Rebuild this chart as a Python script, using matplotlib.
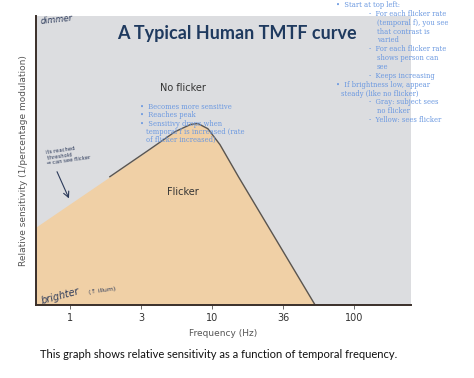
import matplotlib
matplotlib.use('Agg')
from matplotlib import pyplot as plt

# evenly spaced frequency ticks (Hz)
tick_labels = ['1', '3', '10', '36', '100']
tick_pos = [0, 1, 2, 3, 4]

# TMTF boundary, x in tick-index units, y relative sensitivity (0-1 of axis)
curve_x = [-0.48, 0.56, 1.13, 1.48, 1.70, 1.80, 1.94, 2.11, 2.37, 3.45]
curve_y = [0.27, 0.444, 0.54, 0.60, 0.625, 0.628, 0.61, 0.555, 0.444, 0.0]

note_lines = [
    (0, '\u2022  Start at top left:'),
    (1, '-  For each flicker rate'),
    (2, '(temporal f), you see'),
    (2, 'that contrast is'),
    (2, 'varied'),
    (1, '-  For each flicker rate'),
    (2, 'shows person can'),
    (2, 'see'),
    (1, '-  Keeps increasing'),
    (0, '\u2022  If brightness low, appear'),
    (3, 'steady (like no flicker)'),
    (1, '-  Gray: subject sees'),
    (2, 'no flicker'),
    (1, '-  Yellow: sees flicker'),
]

mid_lines = [
    (0, '\u2022  Becomes more sensitive'),
    (0, '\u2022  Reaches peak'),
    (0, '\u2022  Sensitivy drops when'),
    (1, 'temporal f is increased (rate'),
    (1, 'of flicker increased)'),
]

gray = '#dcdde0'
peach = '#f0d0a6'
blue = '#6a98e0'
ink = '#2c3a5a'

fig = plt.figure(figsize=(4.74, 3.78), dpi=100)
ax = fig.add_axes([36/474, 1-305/378, 375/474, 289/378])
ax.set_facecolor(gray)
ax.set_xlim(-0.48, 4.8)
ax.set_ylim(0, 1)

ax.fill_between(curve_x, curve_y, 0, color=peach, lw=0)
ax.plot(curve_x[1:], curve_y[1:], color='#5a5550', lw=1.0)

ax.set_xticks(tick_pos)
ax.set_xticklabels(tick_labels, fontsize=7, color='#333333')
ax.tick_params(axis='x', length=3, width=0.6, color='#555555', pad=3)
ax.set_yticks([])
for s in ['top', 'right']:
    ax.spines[s].set_visible(False)
ax.spines['left'].set_color('#3a2f2a')
ax.spines['left'].set_linewidth(1.4)
ax.spines['bottom'].set_color('#3a2f2a')
ax.spines['bottom'].set_linewidth(1.4)

ax.set_xlabel('Frequency (Hz)', fontsize=6.5, color='#555555', labelpad=4)
ax.set_ylabel('Relative sensitivity (1/percentage modulation)', fontsize=6.5,
              color='#555555', labelpad=6)

fig.text(237/474, 1-33/378, 'A Typical Human TMTF curve', ha='center', va='center',
         fontsize=13, fontweight='bold', color='#1f3a5f', family='Lato')

fig.text(183/474, 1-88/378, 'No flicker', ha='center', va='center', fontsize=7, color='#333333')
fig.text(183/474, 1-192/378, 'Flicker', ha='center', va='center', fontsize=7, color='#333333')

# handwritten notes
fig.text(40/474, 1-20/378, 'dimmer', fontsize=6, color=ink, rotation=6, va='center',
         style='italic')
fig.text(40/474, 1-296/378, 'brighter', fontsize=7, color=ink, rotation=15, va='center',
         style='italic')
fig.text(88/474, 1-290/378, '(\u2191 illum)', fontsize=4.5, color=ink, rotation=8, va='center')
fig.text(45/474, 1-155/378, "its reached\n threshold\n\u21d2 can see flicker", fontsize=3.8,
         color=ink, rotation=8, va='center', linespacing=1.1)
ax.annotate('', xy=(0.0, 0.36), xytext=(-0.2, 0.47),
            arrowprops=dict(arrowstyle='->', color=ink, lw=0.8))

# blue slide notes (middle)
for i, (lvl, s) in enumerate(mid_lines):
    x = 140 if lvl == 0 else 146
    fig.text(x/474, 1-(107 + i*8.3)/378, s, fontsize=4.9, color=blue,
             family='DejaVu Serif', va='center')

# blue slide notes (right)
indent = {0: 336, 1: 369, 2: 377, 3: 341}
for i, (lvl, s) in enumerate(note_lines):
    fig.text(indent[lvl]/474, 1-(5 + i*8.85)/378, s, fontsize=4.9, color=blue,
             family='DejaVu Serif', va='center')

fig.text(40/474, 1-355/378,
         'This graph shows relative sensitivity as a function of temporal frequency.',
         fontsize=8, color='#111111', va='center', family='Lato')

fig.savefig('out.png', dpi=100)
